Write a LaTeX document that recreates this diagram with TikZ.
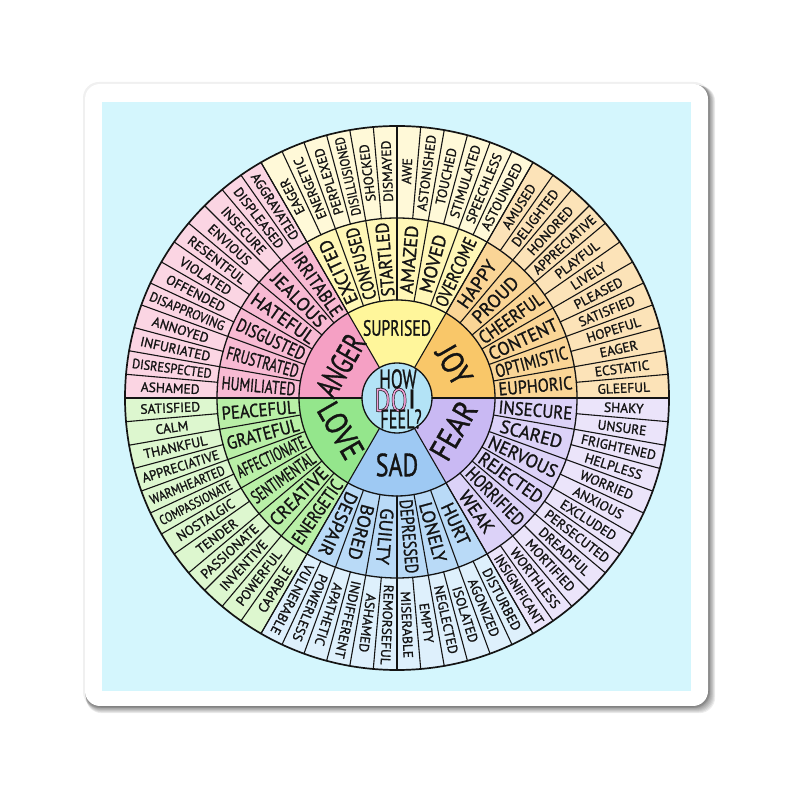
\documentclass[tikz,border=0pt]{standalone}
\usepackage{fontspec}
\setmainfont{PT Sans}[FakeBold=1.2]
\newfontfamily\dofont{PT Sans}[FakeBold=1.8]
\usepackage{graphicx}
\definecolor{ink}{HTML}{141414}
\definecolor{bgcyan}{HTML}{D4F6FD}
\definecolor{centerblue}{HTML}{B3E3F6}
\definecolor{doPink}{HTML}{F29FD6}
\definecolor{joyA}{HTML}{F9C769}
\definecolor{joyB}{HTML}{FAD596}
\definecolor{joyC}{HTML}{FCE3B8}
\definecolor{surpA}{HTML}{FFF69B}
\definecolor{surpB}{HTML}{FFF7B7}
\definecolor{surpC}{HTML}{FFF9D8}
\definecolor{angerA}{HTML}{F5A0C4}
\definecolor{angerB}{HTML}{F8BAD3}
\definecolor{angerC}{HTML}{FBD5E3}
\definecolor{loveA}{HTML}{94E68C}
\definecolor{loveB}{HTML}{B9F0A7}
\definecolor{loveC}{HTML}{DDF7CF}
\definecolor{sadA}{HTML}{9EC9F3}
\definecolor{sadB}{HTML}{B9DAF7}
\definecolor{sadC}{HTML}{DEF0FC}
\definecolor{fearA}{HTML}{C9B9F3}
\definecolor{fearB}{HTML}{DCD2F8}
\definecolor{fearC}{HTML}{EBE4FA}
\newsavebox\fitbox
\newcommand\fitto[2]{\sbox\fitbox{#2}\ifdim\wd\fitbox>#1\relax\resizebox{#1}{\height}{\usebox\fitbox}\else\usebox\fitbox\fi}
\begin{document}
\begin{tikzpicture}[x=1pt,y=1pt,
  outerw/.style={font=\fontsize{13.5}{13.5}\selectfont, inner sep=0pt, text=ink},
  midw/.style={font=\fontsize{18.5}{18.5}\selectfont, inner sep=0pt, text=ink},
  mainw/.style={font=\fontsize{32}{32}\selectfont, inner sep=0pt, text=ink},
  centerw/.style={font=\fontsize{27}{27}\selectfont, inner sep=0pt, text=ink},
  ringline/.style={draw=ink, line width=1.3pt},
  spoke/.style={draw=ink, line width=1.1pt, line cap=round}]
\useasboundingbox (0,0) rectangle (794,794);
\fill[white] (0,0) rectangle (794,794);
% sticker shadow
\foreach \d in {1,...,8}
  \fill[black,opacity=0.07,rounded corners=16] (85+\d*0.1,88-\d*0.9) rectangle (708+\d*0.9,710-\d*0.2);
\fill[black,opacity=0.06,rounded corners=16] (83,86) rectangle (710,712);
\fill[white, rounded corners=15] (85,88) rectangle (708,710);
\fill[bgcyan] (102,103) rectangle (691,692);
\begin{scope}[shift={(397,396)}]
  \foreach \s/\cc in {0/joy,60/surp,120/anger,180/love,240/sad,300/fear}{
    \fill[\cc A] (\s:35) arc[start angle=\s,delta angle=60,radius=35] -- ({\s+60}:98) arc[start angle={\s+60},delta angle=-60,radius=98] -- cycle;
    \fill[\cc B] (\s:98) arc[start angle=\s,delta angle=60,radius=98] -- ({\s+60}:180) arc[start angle={\s+60},delta angle=-60,radius=180] -- cycle;
    \fill[\cc C] (\s:180) arc[start angle=\s,delta angle=60,radius=180] -- ({\s+60}:272) arc[start angle={\s+60},delta angle=-60,radius=272] -- cycle;
  }
  \fill[centerblue] (0,0) circle[radius=35];
  \foreach \a in {0,60,...,300} \draw[spoke] (\a:35) -- (\a:272);
  \foreach \a in {10,20,...,350} \draw[spoke] (\a:98) -- (\a:272);
  \foreach \a in {5,15,...,355} \draw[spoke] (\a:180) -- (\a:272);
  \draw[ringline] (0,0) circle[radius=35];
  \draw[ringline] (0,0) circle[radius=98];
  \draw[ringline] (0,0) circle[radius=180];
  \draw[ringline, line width=1.7pt] (0,0) circle[radius=272];
  % outer words
  \foreach \w [count=\k from 0] in {GLEEFUL,ECSTATIC,EAGER,HOPEFUL,SATISFIED,PLEASED,LIVELY,PLAYFUL,APPRECIATIVE,HONORED,DELIGHTED,AMUSED,
    ASTOUNDED,SPEECHLESS,STIMULATED,TOUCHED,ASTONISHED,AWE,DISMAYED,SHOCKED,DISILLUSIONED,PERPLEXED,ENERGETIC,EAGER,
    AGGRAVATED,DISPLEASED,INSECURE,ENVIOUS,RESENTFUL,VIOLATED,OFFENDED,DISAPPROVING,ANNOYED,INFURIATED,DISRESPECTED,ASHAMED,
    SATISFIED,CALM,THANKFUL,APPRECIATIVE,WARMHEARTED,COMPASSIONATE,NOSTALGIC,TENDER,PASSIONATE,INVENTIVE,POWERFUL,CAPABLE,
    VULNERABLE,POWERLESS,APATHETIC,INDIFFERENT,ASHAMED,REMORSEFUL,MISERABLE,EMPTY,NEGLECTED,ISOLATED,AGONIZED,DISTURBED,
    INSIGNIFICANT,WORTHLESS,MORTIFIED,DREADFUL,PERSECUTED,EXCLUDED,ANXIOUS,WORRIED,HELPLESS,FRIGHTENED,UNSURE,SHAKY}{
    \pgfmathsetmacro\a{\k*5+2.5}
    \pgfmathsetmacro\rot{\a-180*(\a>120)*(\a<240)}
    \node[outerw, rotate=\rot] (ow\k) at (\a:227) {\fitto{80pt}{\w}};
  }
  % middle words
  \foreach \w [count=\k from 0] in {EUPHORIC,OPTIMISTIC,CONTENT,CHEERFUL,PROUD,HAPPY,
    OVERCOME,MOVED,AMAZED,STARTLED,CONFUSED,EXCITED,
    IRRITABLE,JEALOUS,HATEFUL,DISGUSTED,FRUSTRATED,HUMILIATED,
    PEACEFUL,GRATEFUL,AFFECTIONATE,SENTIMENTAL,CREATIVE,ENERGETIC,
    DESPAIR,BORED,GUILTY,DEPRESSED,LONELY,HURT,
    WEAK,HORRIFIED,REJECTED,NERVOUS,SCARED,INSECURE}{
    \pgfmathsetmacro\a{\k*10+5}
    \pgfmathsetmacro\rot{\a-180*(\a>120)*(\a<240)}
    \node[midw, rotate=\rot] (mw\k) at (\a:139) {\fitto{74pt}{\w}};
  }
  % main labels
  \node[mainw, rotate=-60] (joy) at (30:66) {\scalebox{0.85}[1]{JOY}};
  \node[mainw, font=\fontsize{22}{22}\selectfont] (surprised) at (90:70) {\fitto{68pt}{SUPRISED}};
  \node[mainw, rotate=60] (anger) at (150:65) {\fitto{66pt}{ANGER}};
  \node[mainw, rotate=-60] (love) at (210:65) {\fitto{60pt}{LOVE}};
  \node[mainw] (sad) at (270:67) {\scalebox{0.75}[1]{SAD}};
  \node[mainw, rotate=60] (fear) at (330:65) {\fitto{62pt}{FEAR}};
  % centre
  \node[centerw] (c1) at (1,19) {\scalebox{0.64}[1]{HOW}};
  \node[centerw, text=doPink] (c2) at (-6,-2) {\scalebox{0.75}[1]{\fontsize{33}{33}\dofont\special{pdf:code 0.08 0.08 0.08 RG}DO}};
  \node[centerw] (c2b) at (15,-1) {I};
  \node[centerw] (c3) at (4,-21) {\scalebox{0.6}[1]{FEEL?}};
\end{scope}
\end{tikzpicture}
\end{document}
